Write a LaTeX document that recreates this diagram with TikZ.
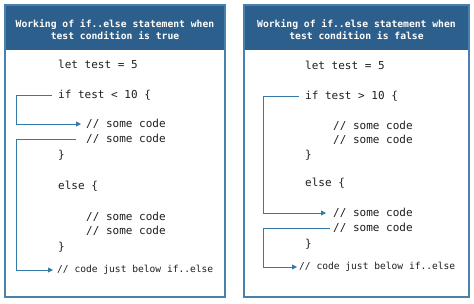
\documentclass[tikz,border=0pt]{standalone}
\usepackage{fontspec}
\setmonofont{DejaVu Sans Mono}
\usetikzlibrary{arrows.meta}
\definecolor{hdr}{RGB}{44,95,140}
\definecolor{brd}{RGB}{72,130,172}
\definecolor{arr}{RGB}{52,122,168}
\definecolor{txt}{RGB}{30,30,30}
\begin{document}
\begin{tikzpicture}[x=1pt,y=-1pt,
  code/.style={anchor=west,inner sep=0pt,font=\ttfamily\fontsize{11}{13}\selectfont,text=txt},
  small/.style={code,font=\ttfamily\fontsize{9.6}{12}\selectfont},
  head/.style={align=center,inner sep=0pt,text=white,font=\ttfamily\bfseries\fontsize{9.7}{12}\selectfont},
  panel/.style={draw=brd,line width=1.3pt},
  conn/.style={draw=arr,line width=0.8pt},
  tip/.style={conn,-{Triangle[length=5pt,width=5pt]}}]
\useasboundingbox (0,0) rectangle (474,303);
% left panel
\fill[hdr] (5,5) rectangle (225,50);
\draw[panel] (5,5) rectangle (225,297);
\node[head] (hA) at (115,30) {Working of if..else statement when\\test condition is true};
\node[code] (letA) at (58,64) {let test = 5};
\node[code] (ifA) at (58,95) {if test < 10 \{};
\node[code] (sA1) at (86,124) {// some code};
\node[code] (sA2) at (86,139) {// some code};
\node[code] (cA1) at (58,155) {\}};
\node[code] (elA) at (58,186) {else \{};
\node[code] (sA3) at (86,217) {// some code};
\node[code] (sA4) at (86,231) {// some code};
\node[code] (cA2) at (58,247) {\}};
\node[small] (bA) at (57,270) {// code just below if..else};
\coordinate (lxA) at (16,0);
\draw[tip] ([xshift=-6pt]ifA.west) -- (ifA.west -| lxA) |- ([xshift=-5pt]sA1.west);
\draw[tip] ([xshift=-10pt]sA2.west) -- (sA2.west -| lxA) |- ([xshift=-4pt]bA.west);
% right panel
\fill[hdr] (244,5) rectangle (469,50);
\draw[panel] (244,5) rectangle (469,297);
\node[head] (hB) at (356.5,30) {Working of if..else statement when\\test condition is false};
\node[code] (letB) at (305,65) {let test = 5};
\node[code] (ifB) at (305,96) {if test > 10 \{};
\node[code] (sB1) at (333,126) {// some code};
\node[code] (sB2) at (333,140) {// some code};
\node[code] (cB1) at (305,155) {\}};
\node[code] (elB) at (305,183) {else \{};
\node[code] (sB3) at (333,213) {// some code};
\node[code] (sB4) at (333,228) {// some code};
\node[code] (cB2) at (305,244) {\}};
\node[small] (bB) at (299,267) {// code just below if..else};
\coordinate (lxB) at (263,0);
\draw[tip] ([xshift=-6pt]ifB.west) -- (ifB.west -| lxB) |- ([xshift=-7pt]sB3.west);
\draw[tip] ([xshift=-3pt]sB4.west) -- (sB4.west -| lxB) |- ([xshift=-2pt]bB.west);
\end{tikzpicture}
\end{document}
